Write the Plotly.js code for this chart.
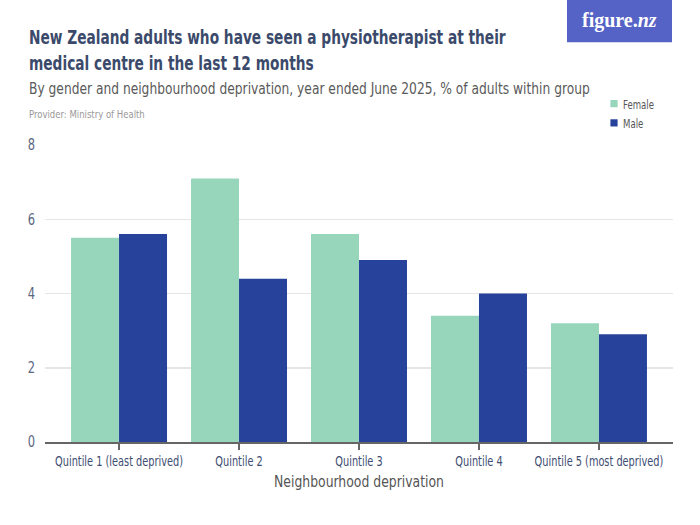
<!DOCTYPE html>
<html><head><meta charset="utf-8">
<script src="https://cdn.plot.ly/plotly-3.0.1.min.js"></script>
<style>body{margin:0;padding:0;background:#fff}#chart{width:700px;height:525px}</style>
</head><body><div id="chart"></div>
<script>
const categories = ["Quintile 1 (least deprived)", "Quintile 2", "Quintile 3", "Quintile 4", "Quintile 5 (most deprived)"];
const female = [5.5, 7.1, 5.6, 3.4, 3.2];
const male = [5.6, 4.4, 4.9, 4.0, 2.9];
const yTicks = [0, 2, 4, 6, 8];

const FONT = '"DejaVu Sans Condensed", "Liberation Sans Narrow", sans-serif';
const L = 45, R = 27, T = 145, B = 83, W = 700, H = 525;
const pw = W - L - R, ph = H - T - B;
const px = x => (x - L) / pw;
const py = y => (H - B - y) / ph;

const traces = [
  {type: 'bar', name: 'Female', x: categories, y: female, marker: {color: '#97d6bb'}, hoverinfo: 'none'},
  {type: 'bar', name: 'Male', x: categories, y: male, marker: {color: '#27429a'}, hoverinfo: 'none'}
];

const layout = {
  width: W, height: H,
  margin: {l: L, r: R, t: T, b: B, pad: 0},
  paper_bgcolor: '#fff', plot_bgcolor: '#fff',
  font: {family: FONT, color: '#555'},
  barmode: 'group', bargap: 0.2, bargroupgap: 0,
  showlegend: true,
  legend: {x: px(583), y: py(89), xanchor: 'left', yanchor: 'top', font: {size: 12.5, color: '#555', family: FONT}, bgcolor: 'rgba(0,0,0,0)', tracegroupgap: 0, itemwidth: 30},
  xaxis: {
    type: 'category', range: [-0.617, 4.617],
    showline: true, linecolor: '#666', linewidth: 1.5,
    ticks: 'outside', ticklen: 6, tickcolor: '#666', tickwidth: 1.2,
    tickfont: {size: 13.5, color: '#3e4d72', family: FONT},
    showgrid: false,
    title: {text: 'Neighbourhood deprivation', font: {size: 16, color: '#555', family: FONT}, standoff: 8}
  },
  yaxis: {
    range: [0, 8], tickvals: yTicks, ticktext: yTicks.map(String),
    showgrid: true, gridcolor: '#e6e6e6', gridwidth: 1.5,
    zeroline: false, showline: false, ticks: '',
    tickfont: {size: 15, color: '#5a6580', family: FONT},
    ticklabelstandoff: 9
  },
  shapes: [
    {type: 'rect', xref: 'paper', yref: 'paper', x0: px(567), x1: px(672), y0: py(42.3), y1: py(0), fillcolor: '#5562c6', line: {width: 0}}
  ],
  annotations: [
    {xref: 'paper', yref: 'paper', x: px(619.5), y: py(21), xanchor: 'center', yanchor: 'middle', text: '<b>figure.<i>nz</i></b>', showarrow: false, font: {family: '"Liberation Serif", "DejaVu Serif", serif', size: 20, color: '#fff'}},
    {xref: 'paper', yref: 'paper', x: px(27), y: py(23), xanchor: 'left', yanchor: 'top', align: 'left', showarrow: false,
     text: 'New Zealand adults who have seen a physiotherapist at their<br>medical centre in the last 12 months', font: {size: 20, weight: 700, color: '#3b4a6b', family: FONT}},
    {xref: 'paper', yref: 'paper', x: px(27), y: py(78), xanchor: 'left', yanchor: 'top', align: 'left', showarrow: false,
     text: 'By gender and neighbourhood deprivation, year ended June 2025, % of adults within group', font: {size: 15, color: '#5a5a5a', family: FONT}},
    {xref: 'paper', yref: 'paper', x: px(27), y: py(106), xanchor: 'left', yanchor: 'top', align: 'left', showarrow: false,
     text: 'Provider: Ministry of Health', font: {size: 11, color: '#999', family: FONT}}
  ]
};

function squeeze(el, s) {
  const bb = el.getBBox();
  const anchor = el.getAttribute('text-anchor') || el.style.textAnchor || 'start';
  const ax = anchor === 'middle' ? bb.x + bb.width / 2 : anchor === 'end' ? bb.x + bb.width : bb.x;
  const t = el.getAttribute('transform') || '';
  el.setAttribute('transform', t + ' translate(' + ax + ',0) scale(' + s + ',1) translate(' + (-ax) + ',0)');
}
function squeezeTo(el, target) {
  if (!el) return;
  const w = el.getBBox().width;
  if (w > 0) squeeze(el, target / w);
}

Plotly.newPlot('chart', traces, layout, {displayModeBar: false, staticPlot: true}).then(gd => {
  const anns = gd.querySelectorAll('g.annotation text.annotation-text');
  squeezeTo(anns[1], 477);
  squeezeTo(anns[2], 561);
  squeezeTo(anns[3], 116);
  const xt = gd.querySelectorAll('g.xtick text');
  if (xt.length) {
    const s = 128 / xt[0].getBBox().width;
    xt.forEach(e => squeeze(e, s));
  }
  const yt = gd.querySelectorAll('g.ytick text');
  yt.forEach(e => squeeze(e, 0.85));
  squeezeTo(gd.querySelector('text.xtitle'), 170);
  const lt = gd.querySelectorAll('g.legend text.legendtext');
  if (lt.length) {
    const s = 31 / lt[0].getBBox().width;
    lt.forEach(e => squeeze(e, s));
  }
  gd.querySelectorAll('g.legend g.legendpoints path').forEach(p => {
    const t = p.getAttribute('transform') || '';
    p.setAttribute('transform', t + ' translate(11,0) scale(0.6)');
  });
});
</script></body></html>
